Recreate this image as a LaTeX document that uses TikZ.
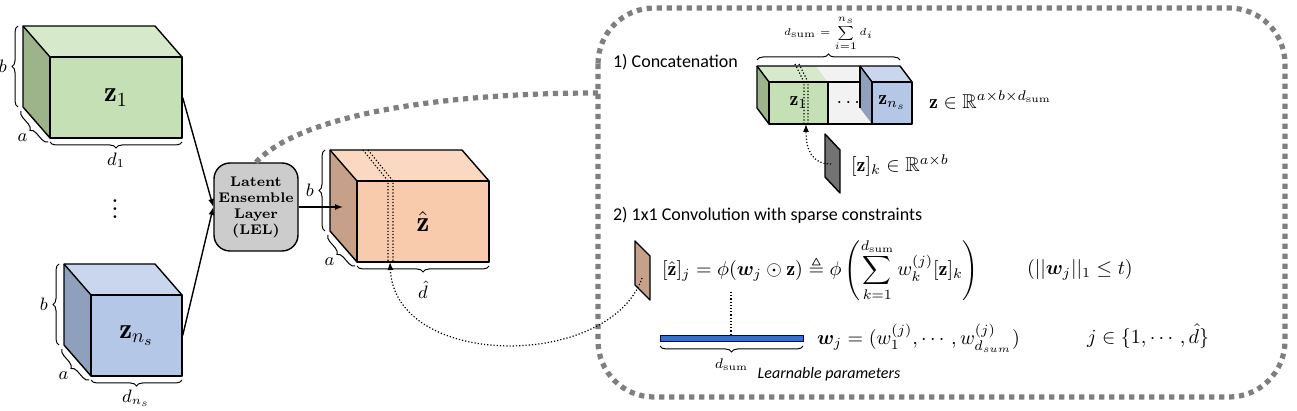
\documentclass[tikz,border=0pt]{standalone}
\usepackage{fontspec}
\setsansfont{Carlito}
\usepackage{amsmath,amssymb,bm}
\usetikzlibrary{arrows.meta,decorations.pathreplacing}
\definecolor{grnF}{HTML}{C5E0B4}
\definecolor{grnT}{HTML}{D6EACB}
\definecolor{grnS}{HTML}{9DB38A}
\definecolor{bluF}{HTML}{B4C7E7}
\definecolor{bluT}{HTML}{C9D6EE}
\definecolor{bluS}{HTML}{8FA0BC}
\definecolor{orgF}{HTML}{F8CBAD}
\definecolor{orgT}{HTML}{FAD8C2}
\definecolor{orgS}{HTML}{C7A08A}
\definecolor{dashgray}{HTML}{7F7F7F}
\tikzset{>={Latex[length=4pt,width=3pt]},
  face/.style={draw, line width=0.7pt, line join=round},
  brc/.style={decorate, decoration={brace, amplitude=3pt}, line width=0.5pt},
  bigdash/.style={dashgray, line width=2.6pt, dash pattern=on 2.6pt off 2.4pt},
  dotline/.style={densely dotted, line width=0.6pt},
  lbl/.style={font=\small}}

\begin{document}
\begin{tikzpicture}[x=0.5pt, y=-0.5pt]
  % name, x1, y1, x2, y2, front, top, side, text
  \newcommand{\cube}[9]{%
    \fill[#7] (#2,#3) -- ({#2-27},{#3-31}) -- ({#4-27},{#3-31}) -- (#4,#3) -- cycle;
    \fill[#8] (#2,#3) -- ({#2-27},{#3-31}) -- ({#2-27},{#5-31}) -- (#2,#5) -- cycle;
    \draw[face] (#2,#5) -- ({#2-27},{#5-31}) -- ({#2-27},{#3-31}) -- ({#4-27},{#3-31}) -- (#4,#3);
    \draw[face] (#2,#3) -- ({#2-27},{#3-31});
    \node[face, fill=#6, minimum width={(#4-#2)*0.5pt}, minimum height={(#5-#3)*0.5pt},
      inner sep=0pt, font=\Large] (#1) at ({(#2+#4)/2},{(#3+#5)/2}) {#9};
    \draw[brc] ({#2-32},{#5-31}) -- node[left=2pt, lbl] {$b$} ({#2-32},{#3-31});
    \draw[brc] ({#2-2},{#5+4}) -- node[below left=0pt, lbl] {$a$} ({#2-29},{#5-27});
    \draw[brc] (#4,{#5+4}) -- ({#2},{#5+4});
  }
  \useasboundingbox (0,0) rectangle (1297,411);

  \cube{zone}{50}{57}{182}{138}{grnF}{grnT}{grnS}{$\mathbf{z}_1$}
  \node[lbl] at (116,160) {$d_1$};
  \cube{zns}{91}{295}{182}{376}{bluF}{bluT}{bluS}{$\mathbf{z}_{n_s}$}
  \node[lbl] at (136,398) {$d_{n_s}$};
  \node[font=\Large] at (115,203) {$\vdots$};

  \node[draw, fill=black!20, line width=0.7pt, rounded corners=8pt, minimum width=42pt,
    minimum height=44pt, align=center, font=\scriptsize\bfseries, inner sep=1pt]
    (lel) at (256,207) {Latent\\Ensemble\\Layer\\(LEL)};
  \draw[->, line width=0.7pt] (zone.east) -- (lel.west);
  \draw[->, line width=0.7pt] (zns.east) -- (lel.west);

  \cube{zhat}{357}{181}{489}{262}{orgF}{orgT}{orgS}{$\hat{\mathbf{z}}$}
  \node[lbl] at (423,290) {$\hat{d}$};
  \draw[->, line width=0.7pt] (lel.east) -- (343,207);
  \draw[dotline] (363,150) -- (388,181) -- (388,262);
  \draw[dotline] (368,150) -- (393,181) -- (393,262);
  \coordinate (zhatslot) at (390,262);

  % container
  \draw[bigdash, rounded corners=28pt] (598,8) rectangle (1285,397);
  \draw[bigdash] (lel.north) .. controls (300,115) and (440,93) .. (598,93);

  % 1) concatenation
  \node[anchor=west, font=\sffamily\small] at (606,62) {1) Concatenation};
  \fill[grnT] (757,66) -- (816,66) -- (828,82) -- (769,82) -- cycle;
  \fill[black!5] (816,66) -- (860,66) -- (872,82) -- (828,82) -- cycle;
  \fill[bluT] (860,66) -- (900,66) -- (912,82) -- (872,82) -- cycle;
  \fill[grnS] (757,66) -- (769,82) -- (769,124) -- (757,108) -- cycle;
  \node[face, fill=grnF, minimum width=29.5pt, minimum height=21pt, inner sep=0pt]
    (cz1) at (798.5,103) {$\mathbf{z}_1$};
  \node[face, fill=black!5, minimum width=22pt, minimum height=21pt, inner sep=0pt]
    (cdots) at (850,103) {$\cdots$};
  \fill[bluS] (860,66) -- (872,82) -- (872,124) -- (860,108) -- cycle;
  \node[face, fill=bluF, minimum width=20pt, minimum height=21pt, inner sep=0pt]
    (czn) at (892,103) {$\mathbf{z}_{n_s}$};
  \draw[face] (769,124) -- (757,108) -- (757,66) -- (900,66) -- (912,82);
  \draw[face] (757,66) -- (769,82);
  \draw[face] (860,66) -- (872,82);
  \draw[face] (860,108) -- (860,66);
  \draw[dotline] (795,64) -- (804,82) -- (804,124);
  \draw[dotline] (799,64) -- (808,82) -- (808,124);
  \draw[brc] (757,60) -- node[above=1pt, font=\tiny]
    {$d_{\mathrm{sum}}=\displaystyle\sum_{i=1}^{n_s} d_i$} (900,60);
  \node[anchor=west] (zdef) at (922,100) {$\mathbf{z}\in\mathbb{R}^{a\times b\times d_{\mathrm{sum}}}$};

  \draw[face, fill=black!55] (825,134) -- (840,150) -- (840,193) -- (825,177) -- cycle;
  \coordinate (kslab) at (831,164);
  \node[anchor=west] at (844,166) {$[\mathbf{z}]_k\in\mathbb{R}^{a\times b}$};
  \draw[dotline, ->] (kslab) .. controls (812,164) and (806,150) .. (806,124);

  % 2) convolution
  \node[anchor=west, font=\sffamily\small] at (606,215) {2) 1x1 Convolution with sparse constraints};
  \draw[face, fill=orgS] (635,241) -- (650,256) -- (650,300) -- (635,285) -- cycle;
  \coordinate (jslab) at (642,278);
  \node[anchor=west] (eq) at (655,270)
    {$[\hat{\mathbf{z}}]_j=\phi(\bm{w}_j\odot\mathbf{z})\triangleq\phi\left(\displaystyle\sum_{k=1}^{d_{\mathrm{sum}}} w_k^{(j)}[\mathbf{z}]_k\right)$};
  \node[anchor=west] at (1020,270) {$(||\bm{w}_j||_1\leq t)$};
  \draw[dotline, ->] (jslab) .. controls (610,370) and (395,370) .. (zhatslot);

  \draw[fill=blue!55!cyan!70!black!80, draw=blue!50!black, line width=0.4pt] (660,335) rectangle (803,341);
  \coordinate (wbar) at (731,335);
  \draw[dotline] (731,292) -- (wbar);
  \draw[brc] (803,346) -- node[below=3pt, font=\scriptsize] {$d_{\mathrm{sum}}$} (660,346);
  \node[anchor=west] at (810,338) {$\bm{w}_j=(w_1^{(j)},\cdots,w_{d_{sum}}^{(j)})$};
  \node[anchor=west] at (1080,336) {$j\in\{1,\cdots,\hat{d}\}$};
  \node[font=\footnotesize\itshape\sffamily] at (829,374) {Learnable parameters};
\end{tikzpicture}
\end{document}
